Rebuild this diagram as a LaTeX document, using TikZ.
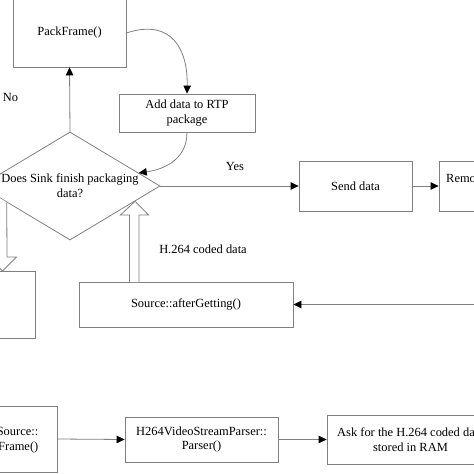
\documentclass[tikz,border=0pt]{standalone}
\usepackage{fontspec}
\setmainfont{Liberation Serif}
\usetikzlibrary{arrows.meta,shapes.geometric,calc}
\begin{document}
\begin{tikzpicture}[x=1bp,y=-1bp,
  every node/.style={font=\fontsize{12.5}{15}\selectfont, text=black},
  box/.style={draw=black!50, line width=0.8bp, rectangle, inner sep=0, align=center},
  conn/.style={draw=black!50, line width=0.8bp, -{Triangle[length=8bp,width=7.5bp,color=black,fill=black]}},
  hollow/.style={draw=black!50, line width=0.8bp, fill=white, line join=miter},
  lbl/.style={inner sep=0, align=center}]
\useasboundingbox (0,0) rectangle (474,474);
\clip (0,0) rectangle (474,474);

\node[box, minimum width=113bp, minimum height=68bp] (pack) at (69.5,33) {PackFrame()};
\node[box, minimum width=136bp, minimum height=38bp] (add) at (187,113) {Add data to RTP\\package};
\node[diamond, draw=black!50, line width=0.8bp, minimum width=180bp, minimum height=108bp, inner sep=0] (d) at (70,186) {};
\node[lbl] (dt) at (70,186) {Does Sink finish packaging\\data?};
\node[box, minimum width=113bp, minimum height=50bp] (send) at (355.5,186) {Send data};
\node[box, minimum width=113bp, minimum height=50bp] (rem) at (495.5,186) {};
\node[lbl, anchor=west] (remt) at (446,178) {Remove};
\node[box, minimum width=214bp, minimum height=45bp] (src) at (186,304.5) {Source::afterGetting()};
\node[box, minimum width=100bp, minimum height=67bp] (lb) at (-15,304.5) {};
\node[box, minimum width=117bp, minimum height=66bp] (fr) at (-1.5,439) {};
\node[lbl, anchor=east, align=right] (frt) at (38.5,440) {Source::\\Frame()};
\node[box, minimum width=153bp, minimum height=45bp] (parser) at (201.5,439.5) {H264VideoStreamParser::\\Parser()};
\node[box, minimum width=167bp, minimum height=49bp] (ask) at (410.5,439.5) {Ask for the H.264 coded data\\stored in RAM};

\node[lbl] (no) at (10.5,97) {No};
\node[lbl] (yes) at (235,166) {Yes};
\node[lbl] (h264) at (203,249) {H.264 coded data};

\draw[conn] (d.north) -- (pack.south);
\draw[conn] (pack.east) .. controls (172,18) and (188,50) .. (add.north);
\coordinate (dr) at ($(d.north)!0.76!(d.east)$);
\draw[conn] (add.south) .. controls (187,162) and (160,170) .. (dr);
\draw[conn] (d.east) -- (send.west);
\draw[conn] (send.east) -- (rem.west);
\coordinate (rin) at (480,304.5);
\draw[conn] (rin) -- (src.east);
\draw[conn] (fr.east) -- (parser.west);
\draw[conn] (parser.east) -- (ask.west);

\coordinate (ut) at ($(d.east)!0.28!(d.south)$);
\draw[hollow] (129.5,282) -- (129.5,215) -- (120.5,215) -- (ut) -- (148.5,215) -- (139,215) -- (139,282);
\coordinate (l1) at ($(d.west)!0.2!(d.south)$);
\coordinate (l2) at ($(d.west)!0.3!(d.south)$);
\draw[hollow] (l1) -- (-2,257) -- (-11.5,257) -- (2.5,271) -- (16.5,257) -- (7,257) -- (l2);
\end{tikzpicture}
\end{document}
